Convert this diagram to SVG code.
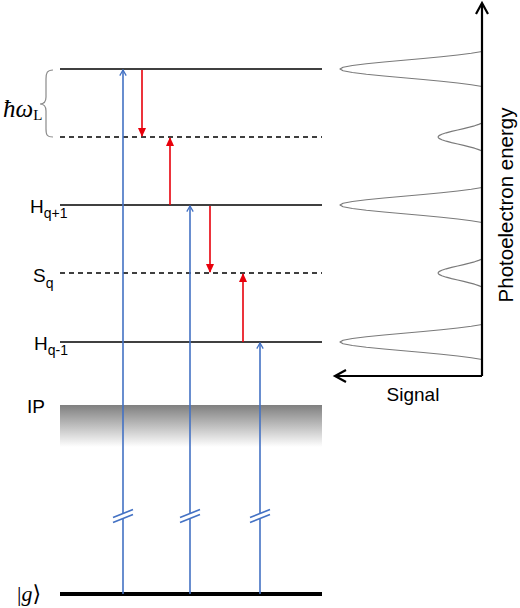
<svg xmlns="http://www.w3.org/2000/svg" width="520" height="608" viewBox="0 0 520 608">
<style>
.lvl{stroke:#000;stroke-width:1.5;fill:none}
.dash{stroke:#000;stroke-width:1.5;fill:none;stroke-dasharray:5,4}
.blue{stroke:#4472C4;stroke-width:1.6;fill:none}
.red{stroke:#E8000B;stroke-width:1.6;fill:none}
.peak{stroke:#7a7a7a;stroke-width:1.2;fill:none;stroke-linejoin:round}
.axis{stroke:#000;stroke-width:2.2;fill:none}
.lab{font-family:"Liberation Sans",Arial,sans-serif;fill:#000}
.math{font-family:"Liberation Serif","DejaVu Serif",serif;fill:#000}
</style>
<defs>
<linearGradient id="ipg" x1="0" y1="0" x2="0" y2="1">
<stop offset="0" stop-color="#7f7f7f"/>
<stop offset="1" stop-color="#ffffff"/>
</linearGradient>
<marker id="bh" viewBox="0 0 10 10" refX="9" refY="5" markerWidth="8" markerHeight="8" markerUnits="userSpaceOnUse" orient="auto">
<path d="M2,1 L9,5 L2,9" stroke="#4472C4" stroke-width="1.6" fill="none"/>
</marker>
<marker id="rh" viewBox="0 0 10 10" refX="9" refY="5" markerWidth="9" markerHeight="9" markerUnits="userSpaceOnUse" orient="auto">
<path d="M0,0.5 L10,5 L0,9.5 Z" fill="#E8000B"/>
</marker>
<path id="bigpk" d="M0,-17.5 L-10.7,-15.75 L-24.3,-14 L-40.6,-12.25 L-58.9,-10.5 L-78.5,-8.75 L-98,-7 L-115.6,-5.25 L-129.6,-3.5 L-138.9,-1.75 L-142,0 L-138.9,1.75 L-129.6,3.5 L-115.6,5.25 L-98,7 L-78.5,8.75 L-58.9,10.5 L-40.6,12.25 L-24.3,14 L-10.7,15.75 L0,17.5"/>
<path id="smpk" d="M0,-14 L-3.3,-12.6 L-7.5,-11.2 L-12.6,-9.8 L-18.3,-8.4 L-24.3,-7 L-30.4,-5.6 L-35.8,-4.2 L-40.2,-2.8 L-43,-1.4 L-44,0 L-43,1.4 L-40.2,2.8 L-35.8,4.2 L-30.4,5.6 L-24.3,7 L-18.3,8.4 L-12.6,9.8 L-7.5,11.2 L-3.3,12.6 L0,14"/>
</defs>

<g id="ionization-band">
<rect x="60" y="405" width="262" height="42" fill="url(#ipg)"/>
</g>

<g id="levels">
<line id="level-top" class="lvl" x1="60" y1="69" x2="322" y2="69"/>
<line id="level-side-upper" class="dash" x1="60" y1="137" x2="322" y2="137"/>
<line id="level-hq1" class="lvl" x1="60" y1="205" x2="322" y2="205"/>
<line id="level-sq" class="dash" x1="60" y1="273" x2="322" y2="273"/>
<line id="level-hqm1" class="lvl" x1="60" y1="342" x2="322" y2="342"/>
<line id="level-g" x1="60" y1="594" x2="322" y2="594" stroke="#000" stroke-width="4"/>
</g>

<g id="labels">
<text class="math" x="3" y="117" font-style="italic" font-size="25">ħω<tspan font-style="normal" font-size="15" dy="3">L</tspan></text>
<path id="brace" d="M53,70 C47,70 46,73 46,79 L46,97 C46,102 44,104 40,104 C44,104 46,106 46,111 L46,129 C46,135 47,137 53,137" stroke="#8a8a8a" stroke-width="1.2" fill="none"/>
<text class="lab" x="30" y="213" font-size="19">H<tspan font-size="14" dy="5">q+1</tspan></text>
<text class="lab" x="33" y="282" font-size="19">S<tspan font-size="14" dy="6">q</tspan></text>
<text class="lab" x="34" y="350" font-size="19">H<tspan font-size="14" dy="5">q-1</tspan></text>
<text class="lab" x="27" y="413" font-size="19">IP</text>
<text class="math" x="17" y="601" font-size="22">|<tspan font-style="italic">g</tspan>⟩</text>
</g>

<g id="connectors">
<path class="blue" d="M123,594 V518.5 M123,513.5 V70" marker-end="url(#bh)"/>
<path class="blue" d="M190,594 V518.5 M190,513.5 V206" marker-end="url(#bh)"/>
<path class="blue" d="M260,594 V518.5 M260,513.5 V343" marker-end="url(#bh)"/>
<g stroke="#4472C4" stroke-width="1.6">
<line x1="113" y1="517.5" x2="133" y2="509.5"/>
<line x1="113" y1="522.5" x2="133" y2="514.5"/>
<line x1="180" y1="517.5" x2="200" y2="509.5"/>
<line x1="180" y1="522.5" x2="200" y2="514.5"/>
<line x1="250" y1="517.5" x2="270" y2="509.5"/>
<line x1="250" y1="522.5" x2="270" y2="514.5"/>
</g>
<line class="red" x1="142" y1="70" x2="142" y2="136" marker-end="url(#rh)"/>
<line class="red" x1="170" y1="205" x2="170" y2="138" marker-end="url(#rh)"/>
<line class="red" x1="210" y1="206" x2="210" y2="272" marker-end="url(#rh)"/>
<line class="red" x1="243" y1="342" x2="243" y2="274" marker-end="url(#rh)"/>
</g>

<g id="spectrum">
<use href="#bigpk" class="peak" transform="translate(482,69)"/>
<use href="#smpk" class="peak" transform="translate(482,137)"/>
<use href="#bigpk" class="peak" transform="translate(482,205)"/>
<use href="#smpk" class="peak" transform="translate(482,273)"/>
<use href="#bigpk" class="peak" transform="translate(482,342)"/>
<path class="axis" d="M482,376 V4 M336,376 H482"/>
<path d="M476,14 L482,3 L488,14" stroke="#000" stroke-width="2.2" fill="none"/>
<path d="M346,370 L335,376 L346,382" stroke="#000" stroke-width="2.2" fill="none"/>
<text class="lab" x="413" y="401" font-size="19" text-anchor="middle">Signal</text>
<text class="lab" font-size="20.5" text-anchor="middle" transform="translate(513,205) rotate(-90)">Photoelectron energy</text>
</g>
</svg>
